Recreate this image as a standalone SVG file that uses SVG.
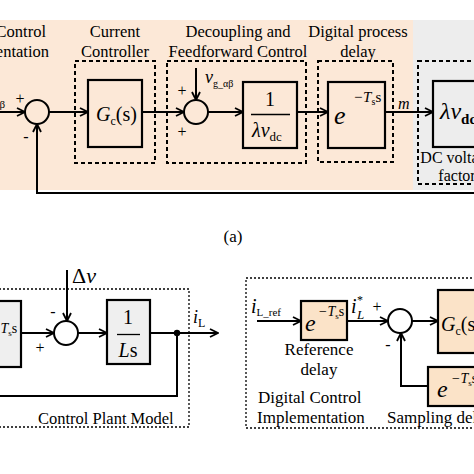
<svg xmlns="http://www.w3.org/2000/svg" width="474" height="474" viewBox="0 0 474 474">
<style>
text{font-family:"Liberation Serif","Times New Roman",serif;fill:#000}
.lbl{font-size:16.5px}
.it{font-style:italic}
.ln{stroke:#000;stroke-width:2;fill:none}
.blk{stroke:#000;stroke-width:2.2;fill:none}
.dash{stroke:#000;stroke-width:2;fill:none;stroke-dasharray:4 3}
.dot{stroke:#000;stroke-width:1.3;fill:none;stroke-dasharray:2 2}
.sum{stroke:#000;stroke-width:2;fill:none}
.sumw{stroke:#000;stroke-width:2;fill:#fff}
.grey{fill:#efefef}
.peach{fill:#fbe3c8}
</style>
<defs>
<marker id="ar" viewBox="0 0 10 10" refX="9" refY="5" markerWidth="10" markerHeight="10" markerUnits="userSpaceOnUse" orient="auto"><path d="M1,1 L9,5 L1,9" fill="none" stroke="#000" stroke-width="1.8"/></marker>
</defs>
<rect x="0" y="0" width="474" height="474" fill="#fff"/>
<!-- backgrounds -->
<rect x="0" y="20" width="413" height="170" fill="#fce8d7"/>
<rect x="413" y="20" width="61" height="170" fill="#ededed"/>

<!-- top titles -->
<text class="lbl" x="46" y="37" text-anchor="end">Digital Control</text>
<text class="lbl" x="49" y="57" text-anchor="end">Implementation</text>
<text class="lbl" x="115" y="37" text-anchor="middle">Current</text>
<text class="lbl" x="115" y="57" text-anchor="middle">Controller</text>
<text class="lbl" x="238" y="37" text-anchor="middle">Decoupling and</text>
<text class="lbl" x="238" y="57" text-anchor="middle">Feedforward Control</text>
<text class="lbl" x="358" y="37" text-anchor="middle">Digital process</text>
<text class="lbl" x="358" y="57" text-anchor="middle">delay</text>

<!-- dashed groups -->
<rect class="dash" x="75" y="61" width="80" height="102"/>
<rect class="dash" x="167" y="61" width="139" height="102"/>
<rect class="dash" x="318" y="61" width="75" height="101"/>
<rect class="dash" x="418" y="61" width="70" height="123"/>

<g id="sum1"><circle class="sum" cx="37" cy="112" r="12"/>
<text x="20" y="104" font-size="16" text-anchor="middle">+</text>
<text x="26" y="142" font-size="16" text-anchor="middle">-</text></g>
<text x="5" y="108" font-size="11" text-anchor="end">αβ</text>

<g id="gc1"><rect class="blk" x="88" y="80" width="54" height="67"/>
<text x="96" y="121" font-size="20"><tspan class="it">G</tspan><tspan font-size="12" dy="4">c</tspan><tspan dy="-4">(s)</tspan></text></g>

<g id="sum2"><circle class="sum" cx="196" cy="112" r="12"/>
<text x="182" y="96" font-size="16" text-anchor="middle">+</text>
<text x="182" y="137" font-size="16" text-anchor="middle">+</text></g>
<text x="205" y="83" font-size="18" class="it">v<tspan font-size="10" dy="4" font-style="normal">g_αβ</tspan></text>

<g id="dec"><rect class="blk" x="243" y="82" width="54" height="66"/>
<text x="270" y="106" font-size="20" text-anchor="middle">1</text>
<line x1="251" y1="114.5" x2="290" y2="114.5" stroke="#000" stroke-width="1.5"/>
<text x="252" y="137" font-size="20"><tspan class="it">λv</tspan><tspan font-size="13" dy="4">dc</tspan></text></g>

<g id="delay"><rect class="blk" x="328" y="82" width="57" height="66"/>
<text x="334" y="124" font-size="26" class="it">e</text>
<text x="353" y="102" font-size="15"><tspan class="it">−T</tspan><tspan font-size="10" dy="3">s</tspan><tspan dy="-3">s</tspan></text></g>
<text x="398" y="109" font-size="16" class="it">m</text>

<g id="dcv"><rect class="blk" x="433" y="81" width="60" height="66"/>
<text x="440" y="119" font-size="24"><tspan class="it">λv</tspan><tspan font-size="15" dy="5" font-weight="bold">dc</tspan></text>
<text x="457" y="163" font-size="16" text-anchor="middle">DC voltage</text>
<text x="457" y="181" font-size="16" text-anchor="middle">factor</text></g>

<g id="connectors-top">
<path class="ln" d="M0,112 H25" marker-end="url(#ar)"/>
<path class="ln" d="M49,112 H88" marker-end="url(#ar)"/>
<path class="ln" d="M142,112 H184" marker-end="url(#ar)"/>
<path class="ln" d="M196,68 V100" marker-end="url(#ar)"/>
<path class="ln" d="M208,112 H243" marker-end="url(#ar)"/>
<path class="ln" d="M297,112 H328" marker-end="url(#ar)"/>
<path class="ln" d="M385,112 H433" marker-end="url(#ar)"/>
<path class="ln" d="M474,193 H37 V124" marker-end="url(#ar)"/>
</g>

<text x="233" y="242" font-size="17" text-anchor="middle">(a)</text>

<!-- bottom left -->
<rect class="dot" x="-5" y="289" width="194" height="138"/>
<g id="bl-block"><rect class="blk grey" x="-10" y="301" width="31" height="66"/>
<text x="-9" y="333" font-size="14"><tspan class="it">−T</tspan><tspan font-size="9" dy="3">s</tspan><tspan dy="-3">s</tspan></text></g>
<g id="bl-sum"><circle class="sumw" cx="66" cy="333" r="12"/>
<text x="53" y="317" font-size="16" text-anchor="middle">-</text>
<text x="40" y="353" font-size="16" text-anchor="middle">+</text></g>
<text x="72" y="283" font-size="22">Δ<tspan class="it">v</tspan></text>
<g id="plant"><rect class="blk grey" x="107" y="300" width="43" height="64"/>
<text x="128" y="324" font-size="20" text-anchor="middle">1</text>
<line x1="117" y1="334.5" x2="140" y2="334.5" stroke="#000" stroke-width="1.3"/>
<text x="128" y="357" font-size="20" text-anchor="middle"><tspan class="it">L</tspan>s</text></g>
<text x="193" y="323" font-size="18" class="it">i<tspan font-size="12" dy="4" font-style="normal">L</tspan></text>
<text x="38" y="424" font-size="16.5">Control Plant Model</text>

<g id="connectors-bl">
<path class="ln" d="M21,333 H54" marker-end="url(#ar)"/>
<path class="ln" d="M67,270 V321" marker-end="url(#ar)"/>
<path class="ln" d="M78,333 H107" marker-end="url(#ar)"/>
<path class="ln" d="M150,333 H218" marker-end="url(#ar)"/>
<path class="ln" d="M177,333 V396 H0"/>
<circle cx="177" cy="333" r="3.2" fill="#000"/>
</g>

<!-- bottom right -->
<rect class="dot" x="246" y="278" width="240" height="150"/>
<text x="251" y="313" font-size="20" class="it">i<tspan font-size="11" dy="3" font-style="normal">L_ref</tspan></text>
<g id="refdelay"><rect class="blk peach" x="301" y="301" width="46" height="39"/>
<text x="305" y="331" font-size="24" class="it">e</text>
<text x="318" y="316" font-size="14"><tspan class="it">−T</tspan><tspan font-size="9" dy="3">s</tspan><tspan dy="-3">s</tspan></text></g>
<text x="319" y="355" font-size="17" text-anchor="middle">Reference</text>
<text x="319" y="375" font-size="17" text-anchor="middle">delay</text>
<text x="351" y="313" font-size="20" class="it">i</text>
<text x="357" y="304" font-size="12">*</text>
<text x="357" y="319" font-size="13" class="it">L</text>
<text x="377" y="312" font-size="16" text-anchor="middle">+</text>
<g id="br-sum"><circle class="sumw" cx="400" cy="321" r="12"/>
<text x="388" y="350" font-size="16" text-anchor="middle">-</text></g>
<g id="gc2"><rect class="blk peach" x="438" y="290" width="50" height="63"/>
<text x="441" y="331" font-size="20"><tspan class="it">G</tspan><tspan font-size="12" dy="4">c</tspan><tspan dy="-4">(s)</tspan></text></g>
<g id="sampling"><rect class="blk peach" x="428" y="367" width="60" height="39"/>
<text x="437" y="397" font-size="24" class="it">e</text>
<text x="451" y="383" font-size="14"><tspan class="it">−T</tspan><tspan font-size="9" dy="3">s</tspan><tspan dy="-3">s</tspan></text></g>
<text x="258" y="403" font-size="17">Digital Control</text>
<text x="257" y="423" font-size="17">Implementation</text>
<text x="387" y="423" font-size="17">Sampling delay</text>

<g id="connectors-br">
<path class="ln" d="M257,321 H301" marker-end="url(#ar)"/>
<path class="ln" d="M347,321 H388" marker-end="url(#ar)"/>
<path class="ln" d="M412,321 H438" marker-end="url(#ar)"/>
<path class="ln" d="M428,386 H401 V333" marker-end="url(#ar)"/>
</g>
</svg>
